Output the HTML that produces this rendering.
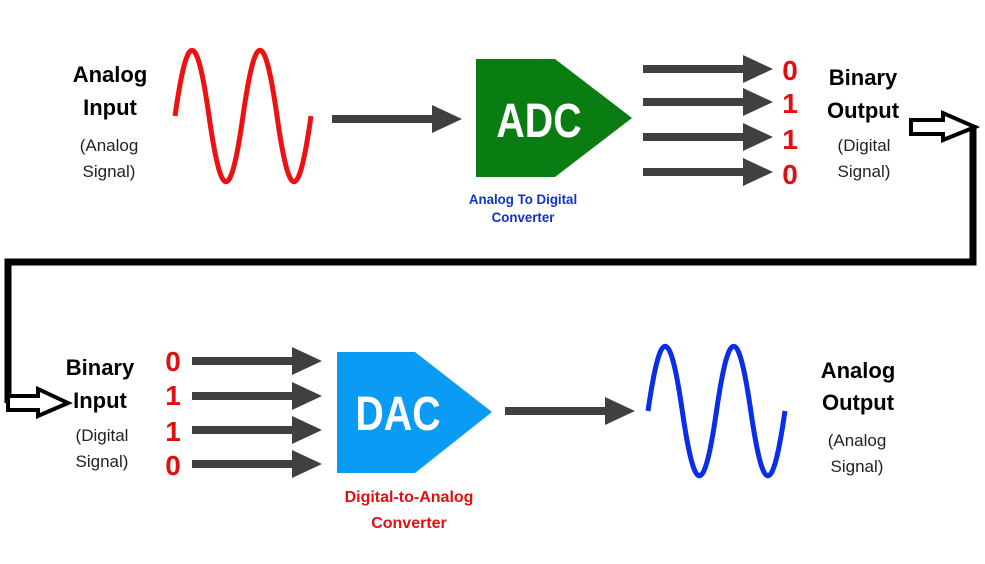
<!DOCTYPE html>
<html><head><meta charset="utf-8"><style>
html,body{margin:0;padding:0;background:#fff;}
svg{display:block;}
text{font-family:"Liberation Sans",Arial,sans-serif;}
</style></head><body>
<svg width="985" height="564" viewBox="0 0 985 564" xmlns="http://www.w3.org/2000/svg">
<defs>
<g id="arr"><rect x="0" y="-4" width="102" height="8" fill="#404040"/><polygon points="100,-14 130,0 100,14" fill="#404040"/></g>
</defs>
<path d="M175,116 C187.4,28.4 196.6,28.4 209,116 C221.4,203.6 230.6,203.6 243,116 C255.4,28.4 264.6,28.4 277,116 C289.4,203.6 298.6,203.6 311,116" fill="none" stroke="#ee1111" stroke-width="5"/>
<text x="110" y="82" font-size="22" font-weight="bold" text-anchor="middle">Analog</text>
<text x="110" y="115" font-size="22" font-weight="bold" text-anchor="middle">Input</text>
<text x="109" y="151" font-size="17" text-anchor="middle" fill="#222">(Analog</text>
<text x="109" y="177" font-size="17" text-anchor="middle" fill="#222">Signal)</text>
<use href="#arr" x="332" y="119"/>
<polygon points="476,59 555,59 632,118 555,177 476,177" fill="#0a7d12"/>
<text transform="translate(539,137) scale(0.82,1)" font-size="48" font-weight="bold" fill="#fff" text-anchor="middle">ADC</text>
<text transform="translate(523,204) scale(0.95,1)" font-size="14" font-weight="bold" fill="#1033cc" text-anchor="middle">Analog To Digital</text>
<text transform="translate(523,222) scale(0.95,1)" font-size="14" font-weight="bold" fill="#1033cc" text-anchor="middle">Converter</text>
<use href="#arr" x="643" y="69"/>
<use href="#arr" x="643" y="102"/>
<use href="#arr" x="643" y="137"/>
<use href="#arr" x="643" y="172"/>
<g font-size="28" font-weight="bold" fill="#e01010" text-anchor="middle">
<text x="790" y="80">0</text><text x="790" y="113">1</text><text x="790" y="149">1</text><text x="790" y="184">0</text>
</g>
<text x="863" y="85" font-size="22" font-weight="bold" text-anchor="middle">Binary</text>
<text x="863" y="118" font-size="22" font-weight="bold" text-anchor="middle">Output</text>
<text x="864" y="151" font-size="17" text-anchor="middle" fill="#222">(Digital</text>
<text x="864" y="177" font-size="17" text-anchor="middle" fill="#222">Signal)</text>
<polyline points="973,125 973,262 8,262 8,403" fill="none" stroke="#000" stroke-width="7"/>
<polygon points="911,120 943,120 943,113 975,127 943,140 943,134 911,134" fill="#fff" stroke="#000" stroke-width="4"/>
<polygon points="8,396 38,396 38,389 68,403 38,416 38,410 8,410" fill="#fff" stroke="#000" stroke-width="4"/>
<text x="100" y="375" font-size="22" font-weight="bold" text-anchor="middle">Binary</text>
<text x="100" y="408" font-size="22" font-weight="bold" text-anchor="middle">Input</text>
<text x="102" y="441" font-size="17" text-anchor="middle" fill="#222">(Digital</text>
<text x="102" y="467" font-size="17" text-anchor="middle" fill="#222">Signal)</text>
<g font-size="28" font-weight="bold" fill="#e01010" text-anchor="middle">
<text x="173" y="371">0</text><text x="173" y="405">1</text><text x="173" y="441">1</text><text x="173" y="475">0</text>
</g>
<use href="#arr" x="192" y="361"/>
<use href="#arr" x="192" y="396"/>
<use href="#arr" x="192" y="430"/>
<use href="#arr" x="192" y="464"/>
<polygon points="337,352 415,352 492,412 415,473 337,473" fill="#0a9bf5"/>
<text transform="translate(398,430) scale(0.82,1)" font-size="48" font-weight="bold" fill="#fff" text-anchor="middle">DAC</text>
<text x="409" y="502" font-size="16" font-weight="bold" fill="#e01010" text-anchor="middle">Digital-to-Analog</text>
<text x="409" y="528" font-size="16" font-weight="bold" fill="#e01010" text-anchor="middle">Converter</text>
<use href="#arr" x="505" y="411"/>
<path d="M648,411 C660.5,324.6 669.8,324.6 682.3,411 C694.8,497.4 704,497.4 716.5,411 C729,324.6 738.3,324.6 750.8,411 C763.3,497.4 772.5,497.4 785,411" fill="none" stroke="#0a2ee8" stroke-width="5"/>
<text x="858" y="378" font-size="22" font-weight="bold" text-anchor="middle">Analog</text>
<text x="858" y="410" font-size="22" font-weight="bold" text-anchor="middle">Output</text>
<text x="857" y="446" font-size="17" text-anchor="middle" fill="#222">(Analog</text>
<text x="857" y="472" font-size="17" text-anchor="middle" fill="#222">Signal)</text>
</svg>
</body></html>
